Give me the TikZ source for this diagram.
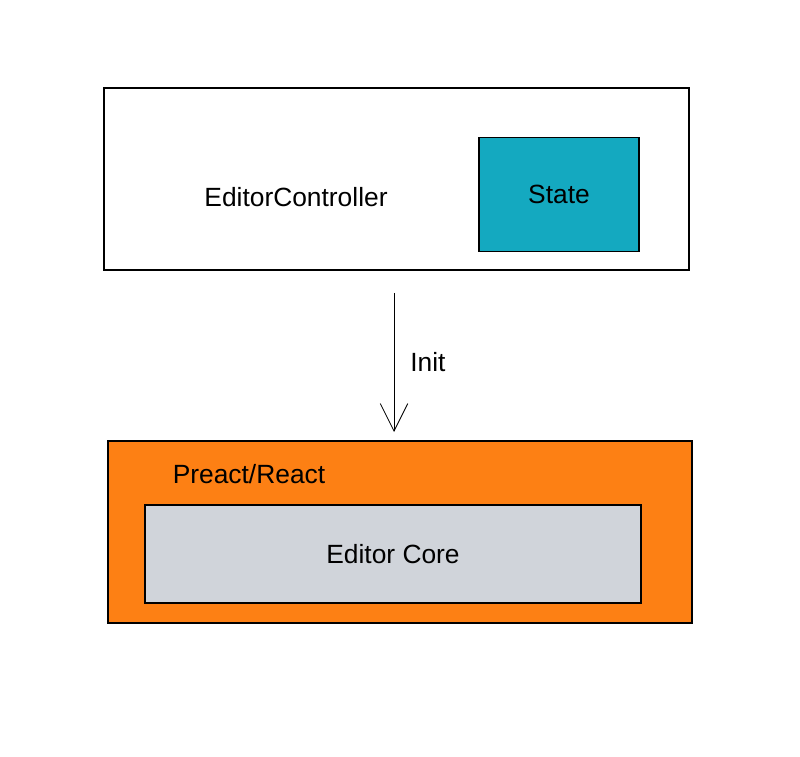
\documentclass[tikz,border=0pt]{standalone}
\usepackage{fontspec}
\setmainfont{Liberation Sans}
\usetikzlibrary{arrows.meta}
\definecolor{stateteal}{HTML}{14A9C0}
\definecolor{reactorange}{HTML}{FD8014}
\definecolor{coregray}{HTML}{D0D4DA}
\tikzset{
  box/.style={draw=black, line width=0.6pt, inner sep=0pt},
  label/.style={font=\fontsize{15}{18}\selectfont}
}
\begin{document}
\begin{tikzpicture}
\useasboundingbox (0,0) rectangle (16,15.12);
\node[box, fill=white, minimum width=11.7cm, minimum height=3.64cm] (ctrl) at (7.93,11.54){};
\node[label] (ctrltext) at (5.92,11.18){EditorController};
\node[box, fill=stateteal, minimum width=3.2cm, minimum height=2.28cm] (state) at (11.18,11.23){};
\node[label] at (state){State};
\node[box, fill=reactorange, minimum width=11.68cm, minimum height=3.64cm] (react) at (8.0,4.48){};
\node[label] (reacttext) at (4.98,5.64){Preact/React};
\node[box, fill=coregray, minimum width=9.92cm, minimum height=1.96cm] (core) at (7.86,4.04){};
\node[label] at (core){Editor Core};
\coordinate (from) at (7.88,9.26);
\coordinate (to) at (7.88,6.48);
\draw[-{Straight Barb[length=5.5mm,width=5.5mm]}, line width=0.5pt] (from) -- (to)
  node[label, midway, right=2mm]{Init};
\end{tikzpicture}
\end{document}
